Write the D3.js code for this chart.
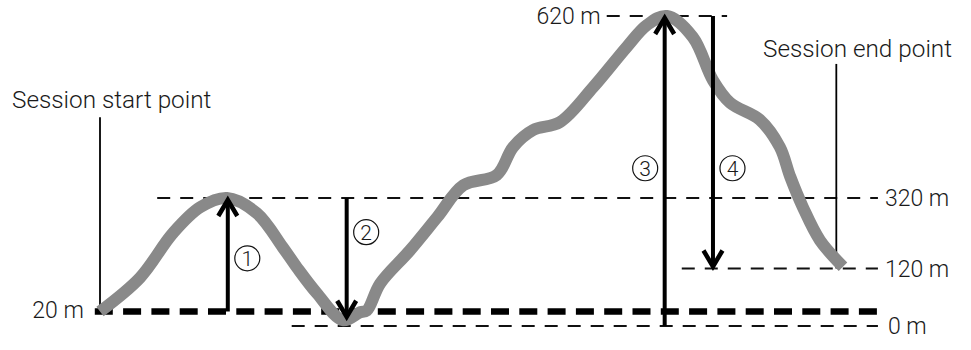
<!DOCTYPE html>
<html>
<head>
<meta charset="utf-8">
<script src="https://cdn.jsdelivr.net/npm/d3@7"></script>
<style>
  body { margin: 0; background: #fff; }
  text { font-family: "Roboto", "Liberation Sans", sans-serif; font-weight: 300; fill: #1a1a1a; }
</style>
</head>
<body>
<div id="chart"></div>
<script>
// elevation profile of the session: distance (0-100 % of the session) and elevation (m)
var distance = [0, 5.4, 9.8, 13.5, 17.1, 21.1, 24.6, 26.5, 29.2, 32.7, 35.0, 35.9,
                37.7, 41.7, 45.4, 48.9, 53.4, 55.6, 58.3, 61.9, 66.4, 70.9, 73.6,
                76.3, 79.8, 82.5, 84.8, 88.8, 91.5, 92.9, 94.6, 96.9, 100];
var elevation = [20, 99, 220, 294, 320, 277, 180, 123, 62, 8, 19, 22,
                 85, 171, 266, 341, 358, 404, 432, 445, 503, 569, 605,
                 620, 585, 514, 477, 449, 404, 355, 294, 200, 125];

// reference levels (m), their text and where the dashed lines run
var levelValues = [620, 320, 120, 0];
var levelLabels = ["620 m", "320 m", "120 m", "0 m"];
var levelSide = ["left", "right", "right", "right"];
var levelFrom = [68.2, 7.7, 78.3, 25.8];
var levelTo = [84.4, 104.7, 104.7, 104.7];

// the session base level (thick dashed)
var baseValue = 20;
var baseLabel = "20 m";
var baseFrom = -0.7, baseTo = 104.7;

// numbered arrows: where, from which elevation to which
var arrowNames = ["1", "2", "3", "4"];
var arrowAt = [17.2, 33.2, 76.0, 82.5];
var arrowFrom = [20, 320, 0, 620];
var arrowTo = [320, 10, 620, 120];
var arrowLabelAt = [149, 223, 369, 369];
var arrowLabelSide = [1, 1, -1, 1];

// session start / end markers
var markerNames = ["Session start point", "Session end point"];
var markerAt = [0, 99.1];
var markerTop = [453, 541];
var markerBottom = [20, 120];

var width = 971, height = 350;

var svg = d3.select("#chart")
  .append("svg")
  .attr("width", width)
  .attr("height", height);

var x = d3.scaleLinear().domain([0, 100]).range([100, 843]);
// the drawing is schematic: levels are not evenly spaced
var y = d3.scaleLinear()
  .domain([0, 20, 120, 320, 620])
  .range([326, 311.5, 268.5, 198, 16]);

// thin dashed reference lines
levelValues.forEach(function(v, i) {
  svg.append("line")
    .attr("x1", x(levelFrom[i])).attr("x2", x(levelTo[i]))
    .attr("y1", y(v)).attr("y2", y(v))
    .attr("stroke", "#111")
    .attr("stroke-width", 1.8)
    .attr("stroke-dasharray", "13,10");

  var left = levelSide[i] == "left";
  svg.append("text")
    .attr("x", left ? x(levelFrom[i]) - 6 : x(levelTo[i]) + (v == 0 ? 10 : 7))
    .attr("y", y(v) + 8)
    .attr("text-anchor", left ? "end" : "start")
    .style("font-size", "23px")
    .text(levelLabels[i]);
});

// thick base line
svg.append("line")
  .attr("x1", x(baseFrom)).attr("x2", x(baseTo))
  .attr("y1", y(baseValue)).attr("y2", y(baseValue))
  .attr("stroke", "#000")
  .attr("stroke-width", 6.5)
  .attr("stroke-dasharray", "18,10.3");

svg.append("text")
  .attr("x", x(baseFrom) - 11)
  .attr("y", y(baseValue) + 6)
  .attr("text-anchor", "end")
  .style("font-size", "23px")
  .text(baseLabel);

// start / end markers
markerNames.forEach(function(name, i) {
  svg.append("line")
    .attr("x1", x(markerAt[i])).attr("x2", x(markerAt[i]))
    .attr("y1", y(markerTop[i])).attr("y2", y(markerBottom[i]))
    .attr("stroke", "#000")
    .attr("stroke-width", 1.8);
});
svg.append("text")
  .attr("x", 12).attr("y", 108)
  .style("font-size", "24.3px")
  .text(markerNames[0]);
svg.append("text")
  .attr("x", 763).attr("y", 57)
  .style("font-size", "24.3px")
  .text(markerNames[1]);

// the profile
var line = d3.line()
  .x(function(d) { return x(d[0]); })
  .y(function(d) { return y(d[1]); })
  .curve(d3.curveCatmullRom.alpha(0.5));

svg.append("path")
  .datum(d3.zip(distance, elevation))
  .attr("d", line)
  .attr("fill", "none")
  .attr("stroke", "#898989")
  .attr("stroke-width", 12);

// arrows
arrowNames.forEach(function(n, i) {
  var ax = x(arrowAt[i]), y0 = y(arrowFrom[i]), y1 = y(arrowTo[i]);
  var dir = y1 < y0 ? 1 : -1;
  svg.append("line")
    .attr("x1", ax).attr("x2", ax)
    .attr("y1", y0).attr("y2", y1 + dir * 2)
    .attr("stroke", "#000")
    .attr("stroke-width", 4);
  svg.append("path")
    .attr("d", "M" + (ax - 9.5) + "," + (y1 + dir * 18) +
               "L" + ax + "," + (y1 + dir * 2) +
               "L" + (ax + 9.5) + "," + (y1 + dir * 18))
    .attr("fill", "none")
    .attr("stroke", "#000")
    .attr("stroke-width", 4.5);

  var lx = ax + arrowLabelSide[i] * 19.5, ly = y(arrowLabelAt[i]);
  svg.append("circle")
    .attr("cx", lx).attr("cy", ly).attr("r", 12.5)
    .attr("fill", "#fff")
    .attr("stroke", "#111")
    .attr("stroke-width", 1.2);
  svg.append("text")
    .attr("x", lx).attr("y", ly + 7.5)
    .attr("text-anchor", "middle")
    .style("font-size", "21px")
    .text(n);
});
</script>
</body>
</html>
